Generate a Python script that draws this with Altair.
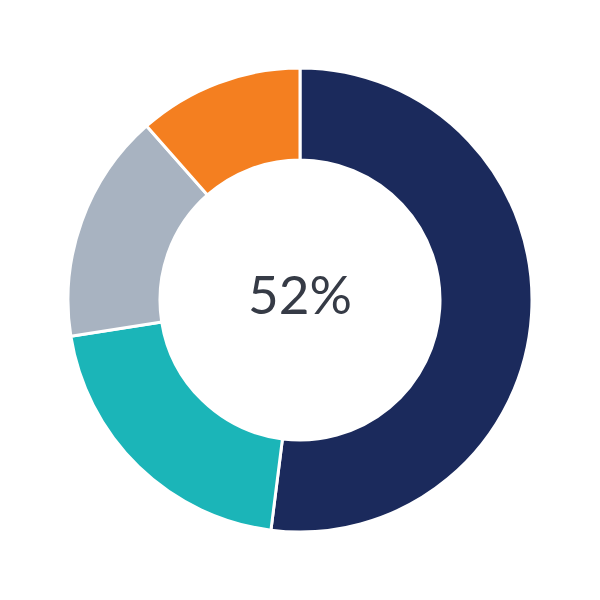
import altair as alt
import pandas as pd

categories = ["A", "B", "C", "D"]
values = [52, 20.5, 16, 11.5]
colors = ["#1b2a5c", "#1bb5b8", "#a8b3c1", "#f47f20"]
center_label = "52%"

df = pd.DataFrame({"category": categories, "value": values, "order": list(range(len(values)))})

arcs = alt.Chart(df).mark_arc(
    radius=232, radius2=140, stroke="white", strokeWidth=3
).encode(
    theta=alt.Theta("value:Q", stack=True),
    color=alt.Color("category:N", scale=alt.Scale(domain=categories, range=colors), legend=None),
    order=alt.Order("order:Q"),
)

text = alt.Chart(pd.DataFrame({"t": [center_label]})).mark_text(
    font="Lato", fontSize=53, fontWeight="normal", color="#363b46", baseline="middle", align="center"
).encode(
    text="t:N",
    x=alt.value(292),
    y=alt.value(290),
)

chart = alt.layer(arcs, text).properties(
    width=584, height=584, padding=0, autosize=alt.AutoSizeParams(type="none")
).configure_view(stroke=None)

chart.save("out.html", embed_options={"renderer": "svg", "actions": False})
